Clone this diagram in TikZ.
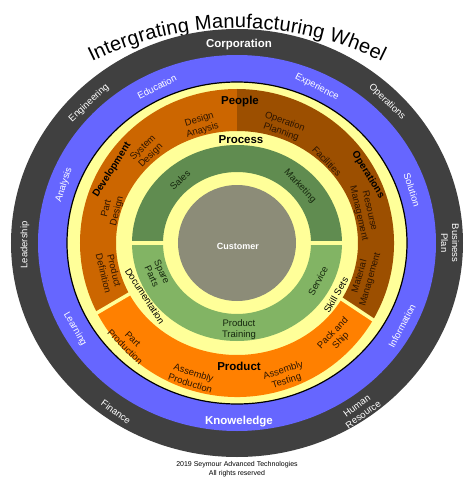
\documentclass[tikz,border=0pt]{standalone}
\usepackage{fontspec}
\setmainfont{Liberation Sans}
\usepackage{tikz}
\usetikzlibrary{decorations.text}
\definecolor{wheeldark}{HTML}{404040}
\definecolor{wheelblue}{HTML}{6666FF}
\definecolor{bandyellow}{HTML}{FFFF99}
\definecolor{devorange}{HTML}{CC6600}
\definecolor{opsbrown}{HTML}{9C4F00}
\definecolor{prodorange}{HTML}{FF8000}
\definecolor{salesgreen}{HTML}{608C50}
\definecolor{servicegreen}{HTML}{82B464}
\definecolor{custgray}{HTML}{8C8C78}
\definecolor{itemdark}{HTML}{2E1500}
\definecolor{greendark}{HTML}{16280E}
\newcommand{\titlefont}{\fontsize{20}{24}\selectfont}

\begin{document}
\begin{tikzpicture}[
    x=1pt, y=1pt,
    ringtext/.style={
        text=white,
        font=\fontsize{9.5}{11}\selectfont,
        align=center,
        inner sep=0pt
    },
    ringhead/.style={
        text=white,
        font=\fontsize{11.5}{13}\selectfont\bfseries,
        inner sep=0pt
    },
    innerhead/.style={
        text=black,
        font=\fontsize{11.5}{13}\selectfont\bfseries,
        inner sep=0pt
    },
    sidehead/.style={
        text=black,
        font=\fontsize{10}{12}\selectfont\bfseries,
        inner sep=0pt
    },
    itemtext/.style={
        text=itemdark,
        font=\fontsize{9.5}{11}\selectfont,
        align=center,
        inner sep=0pt
    },
    greentext/.style={
        itemtext,
        text=greendark
    },
    bandtext/.style={
        itemtext,
        text=black
    },
    ringgap/.style={draw=bandyellow, line width=3.5pt}
]
\useasboundingbox (-237,-241) rectangle (237,241);

% Title along the top arc
\path[decorate, decoration={text along path, text align=center, raise=5pt,
      text={|\titlefont|Intergrating Manufacturing Wheel}}]
    (0,-115) ++(122:323) arc[start angle=122, end angle=58, radius=323];

% Rings
\begin{scope}[shift={(0,-2)}]
\fill[wheeldark] (0,0) ellipse[x radius=226, y radius=214];
\fill[wheelblue] (0,0) ellipse[x radius=199, y radius=188];
\fill[bandyellow] (0,0) ellipse[x radius=170, y radius=161];
\draw[black, line width=1.2pt] (0,0) ellipse[x radius=170, y radius=161];

% orange ring: development, operations, product
\fill[devorange] (90:157 and 154) arc[start angle=90, end angle=207, x radius=157, y radius=154]
    -- (207:121 and 112) arc[start angle=207, end angle=90, x radius=121, y radius=112] -- cycle;
\fill[opsbrown] (-30:157 and 154) arc[start angle=-30, end angle=90, x radius=157, y radius=154]
    -- (90:121 and 112) arc[start angle=90, end angle=-30, x radius=121, y radius=112] -- cycle;
\fill[prodorange] (207:157 and 154) arc[start angle=207, end angle=330, x radius=157, y radius=154]
    -- (330:121 and 112) arc[start angle=330, end angle=207, x radius=121, y radius=112] -- cycle;

% green ring
\fill[salesgreen] (0:105 and 98) arc[start angle=0, end angle=180, x radius=105, y radius=98]
    -- (180:74 and 71) arc[start angle=180, end angle=0, x radius=74, y radius=71] -- cycle;
\fill[servicegreen] (180:105 and 98) arc[start angle=180, end angle=360, x radius=105, y radius=98]
    -- (0:74 and 71) arc[start angle=360, end angle=180, x radius=74, y radius=71] -- cycle;

\fill[custgray] (0,0) ellipse[x radius=59, y radius=58];

% gaps
\draw[ringgap] (207:119 and 110) -- (207:159 and 156);
\draw[ringgap] (330:119 and 110) -- (330:159 and 156);
\draw[ringgap] (0:72 and 69) -- (0:107 and 100);
\draw[ringgap] (180:72 and 69) -- (180:107 and 100);
\end{scope}

% Outer dark ring
\node[ringhead] (corporation) at (2,196) {Corporation};
\node[ringtext, rotate=43] (engineering) at (-148,138) {Engineering};
\node[ringtext, rotate=-44] (operations) at (150,139) {Operations};
\node[ringtext, rotate=90] (leadership) at (-212,-4) {Leadership};
\node[ringtext, rotate=-90] (businessplan) at (213,-2) {Business\\Plan};
\node[ringtext, rotate=-36] (finance) at (-121,-171) {Finance};
\node[ringtext, rotate=36] (humanres) at (123,-169) {Human\\Resource};

% Blue ring
\node[ringhead] (knowledge) at (2,-181) {Knoweledge};
\node[ringtext, rotate=27] (education) at (-80,154) {Education};
\node[ringtext, rotate=-27] (experience) at (80,154) {Experience};
\node[ringtext, rotate=72] (analysis) at (-173,56) {Analysis};
\node[ringtext, rotate=-72] (solution) at (175,51) {Solution};
\node[ringtext, rotate=-60] (learning) at (-162,-88) {Learning};
\node[ringtext, rotate=62] (information) at (165,-85) {Information};

% Orange ring
\node[innerhead] (people) at (3,139) {People};
\node[sidehead, rotate=58] (development) at (-125,71) {Development};
\node[sidehead, rotate=-58] (opshead) at (131,66) {Operations};
\node[innerhead] (product) at (2,-125) {Product};

\node[itemtext, rotate=45] (sysdesign) at (-90,89) {System\\Design};
\node[itemtext, rotate=17] (designana) at (-36,116) {Design\\Anaysis};
\node[itemtext, rotate=-20] (opplan) at (46,114) {Operation\\Planning};
\node[itemtext, rotate=-46] (facilities) at (90,80) {Facilities};
\node[itemtext, rotate=-77] (resmgmt) at (127,29) {Resourse\\Management};
\node[itemtext, rotate=74] (matmgmt) at (128,-37) {Material\\Management};
\node[itemtext, rotate=76] (partdesign) at (-125,31) {Part\\Design};
\node[itemtext, rotate=-76] (proddef) at (-128,-31) {Product\\Definition};
\node[itemtext, rotate=-45] (partprod) at (-108,-102) {Part\\Production};
\node[itemtext, rotate=-18] (asmprod) at (-45,-137) {Assembly\\Production};
\node[itemtext, rotate=18] (asmtest) at (48,-135) {Assembly\\Testing};
\node[itemtext, rotate=46] (packship) at (100,-96) {Pack and\\Ship};

% Green ring
\node[innerhead] (process) at (4,101) {Process};
\node[greentext, rotate=43] (sales) at (-57,61) {Sales};
\node[greentext, rotate=-47] (marketing) at (63,55) {Marketing};
\node[greentext, rotate=-66] (spareparts) at (-80,-33) {Spare\\Parts};
\node[greentext] (training) at (2,-89) {Product\\Training};
\node[greentext, rotate=62] (service) at (81,-40) {Service};
\node[bandtext, rotate=-57] (documentation) at (-92,-55) {Documentation};
\node[bandtext, rotate=60] (skillsets) at (99,-54) {Skill Sets};

% Centre
\node[text=white, font=\fontsize{9}{11}\selectfont\bfseries] (customer) at (1,-5) {Customer};

\node[align=center, inner sep=0pt, font=\fontsize{7}{9}\selectfont] (copyright) at (0,-228)
{2019 Seymour Advanced Technologies\\All rights reserved};

\end{tikzpicture}
\end{document}
